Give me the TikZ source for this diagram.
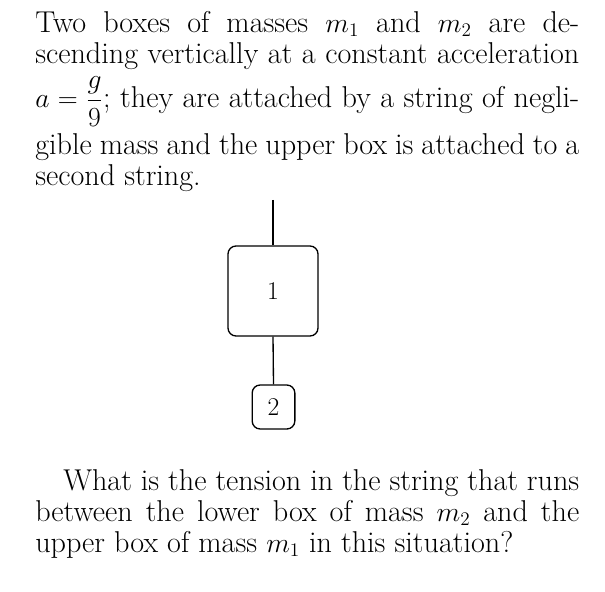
\documentclass[tikz,border=0pt]{standalone}
\begin{document}
\begin{tikzpicture}[x=0.75pt,y=-0.75pt,
  txt/.style={anchor=north west,inner sep=0pt,text width=408pt,align=justify,font=\fontsize{22.6}{23.4}\selectfont},
  box/.style={draw,line width=1pt,rounded corners=6pt,inner sep=0pt,font=\fontsize{19.2}{24}\selectfont}]
\useasboundingbox (0,0) rectangle (605,591);
\node[txt] (top) at (35,11) {Two boxes of masses $m_1$ and $m_2$ are de-\linebreak
scending vertically at a constant acceleration\linebreak
\rule[-19pt]{0pt}{46pt}$a=\displaystyle\frac{g}{9}$; they are attached by a string of negli-\linebreak
gible mass and the upper box is attached to a\linebreak
second string.};
\node[box,minimum width=67.5pt,minimum height=67.5pt] (b1) at (273,291) {1};
\node[box,minimum width=32pt,minimum height=33pt] (b2) at (273.5,407) {2};
\coordinate (c) at (273,200);
\draw[line width=1pt] (c) -- (b1.north);
\draw[line width=1pt] (b1.south) -- (b2.north);
\node[txt] (bot) at (35,469) {\hspace*{21pt}What is the tension in the string that runs\linebreak
between the lower box of mass $m_2$ and the\linebreak
upper box of mass $m_1$ in this situation?};
\end{tikzpicture}
\end{document}
